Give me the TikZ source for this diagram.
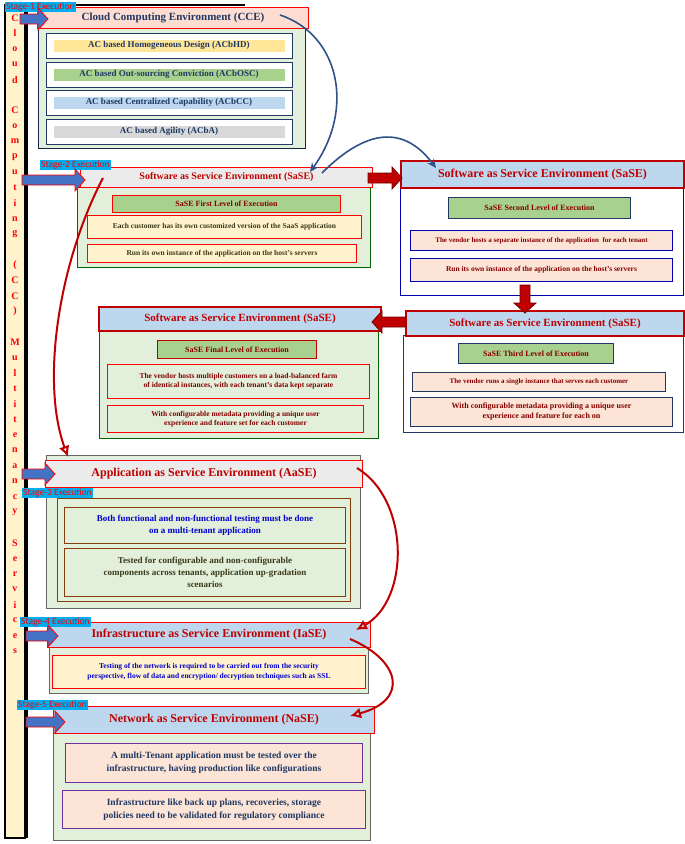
\documentclass[tikz,border=0pt]{standalone}
\usepackage{fontspec}
\setmainfont{Liberation Serif}
\newfontfamily\stg{Carlito}
\usetikzlibrary{arrows.meta}
\definecolor{navy}{HTML}{1F3864}
\definecolor{dred}{HTML}{C00000}
\definecolor{grn}{HTML}{E2EFDA}
\definecolor{grnd}{HTML}{A9D18E}
\definecolor{pyel}{HTML}{FFF2CC}
\definecolor{ppk}{HTML}{FCE4D6}
\definecolor{lblue}{HTML}{BDD7EE}
\definecolor{brn}{HTML}{843C0C}
\definecolor{arrb}{HTML}{4472C4}
\definecolor{purp}{HTML}{7030A0}
\definecolor{olive}{HTML}{3A3A1A}
\begin{document}
\begin{tikzpicture}[x=1pt,y=-1pt,
 bx/.style={draw,line width=1pt},
 ttl/.style={font=\bfseries\fontsize{11}{13}\selectfont,text=dred},
 txt/.style={font=\bfseries\fontsize{8}{10}\selectfont,align=center},
 stage/.style={fill=cyan,text=red,font=\stg\fontsize{9.5}{10}\selectfont,inner sep=1pt,anchor=west},
 blk/.pic={\filldraw[pic actions,line width=0.8pt] (0,-5) -- (#1-10,-5) -- (#1-10,-11) -- (#1,0) -- (#1-10,11) -- (#1-10,5) -- (0,5) -- cycle;},
 bblk/.style={fill=arrb,draw=red},
 rblk/.style={fill=dred,draw=dred!60!black},
 rarr/.style={dred,line width=2pt,-{Latex[length=11pt,width=11pt,open]}},
 blarr/.style={-{Stealth[length=9pt,width=8pt]},arrb!70!black,line width=1.6pt}]
\useasboundingbox (0,0) rectangle (685,844);
% left bar
\draw[fill=pyel,line width=1.5pt] (5,5) rectangle (25,838);
\draw[line width=1.5pt] (5,5) -- (245,5);
\draw[line width=1.5pt] (27,5) -- (27,838);
\foreach \c [count=\i from 0] in {C,l,o,u,d,{},C,o,m,p,u,t,i,n,g,{},{(},C,C,{)},{},M,u,l,t,i,t,e,n,a,n,c,y,{},S,e,r,v,i,c,e,s}
  \node[text=red,font=\bfseries\fontsize{10}{10}\selectfont,inner sep=0] (L\i) at (15,{18+\i*15.45}) {\c};
% Stage 1
\node[bx,draw=navy!70!black,fill=grn,minimum width=267,minimum height=120,anchor=north west] (c1) at (38,28) {};
\node[bx,draw=red,fill=ppk!80!pink,minimum width=271,minimum height=21,anchor=north west,ttl,text=navy] (cce) at (37,7) {Cloud Computing Environment (CCE)};
\foreach \y/\t/\f in {33/AC based Homogeneous Design (ACbHD)/FFE699,62/AC based Out-sourcing Conviction (ACbOSC)/A9D18E,90/AC based Centralized Capability (ACbCC)/BDD7EE,119/AC based Agility (ACbA)/D9D9D9}{
 \definecolor{tmp}{HTML}{\f}
 \node[bx,draw=navy,fill=white,minimum width=246,minimum height=25,anchor=north west] at (46,\y) {};
 \node[fill=tmp,minimum width=231,minimum height=12,inner sep=0,txt,text=navy,font=\bfseries\fontsize{9}{10}\selectfont] at (169,\y+12.5) {\t};}
\node[stage] (s1) at (5,7) {Stage-1 Execution};
\pic[bblk] at (20,19) {blk=28};
% Stage 2
\node[bx,draw=green!40!black,fill=grn,minimum width=293,minimum height=80,anchor=north west] (c2) at (77,187) {};
\node[bx,draw=red,fill=black!8,minimum width=292,minimum height=20,anchor=north west,ttl,font=\bfseries\fontsize{10}{12}\selectfont] (sase1) at (80,167) {Software as Service Environment (SaSE)};
\node[bx,draw=red,fill=grnd,minimum width=228,minimum height=17,anchor=north west,txt,text=dred!70!black] at (112,195) {SaSE First Level of Execution};
\node[bx,draw=red,fill=pyel,minimum width=274,minimum height=23,anchor=north west,txt,text=olive,font=\bfseries\fontsize{7.5}{9}\selectfont] at (87,215) {Each customer has its own customized version of the SaaS application};
\node[bx,draw=red,fill=pyel,minimum width=269,minimum height=18,anchor=north west,txt,text=olive,font=\bfseries\fontsize{7.5}{9}\selectfont] at (87,244) {Run its own instance of the application on the host's servers};
\node[stage] at (40,165) {Stage-2 Execution};
\pic[bblk] at (22,180) {blk=63};
% Right SaSE 2
\node[bx,draw=blue!70!black,fill=white,minimum width=283,minimum height=108,anchor=north west] (c3) at (400,187) {};
\node[draw=dred,line width=2pt,fill=lblue,minimum width=283,minimum height=27,anchor=north west,ttl,font=\bfseries\fontsize{12}{14}\selectfont] (sase2) at (400,160) {Software as Service Environment (SaSE)};
\node[bx,draw=navy,fill=grnd,minimum width=182,minimum height=21,anchor=north west,txt,text=dred!70!black] at (448,197) {SaSE Second Level of Execution};
\node[bx,draw=blue!70!black,fill=ppk,minimum width=262,minimum height=20,anchor=north west,txt,text=dred!70!black,font=\bfseries\fontsize{7}{9}\selectfont] at (410,230) {The vendor hosts a separate instance of the application\ \ for each tenant};
\node[bx,draw=blue!70!black,fill=ppk,minimum width=262,minimum height=23,anchor=north west,txt,text=dred!70!black,font=\bfseries\fontsize{7.5}{9}\selectfont] at (410,258) {Run its own instance of the application on the host's servers};
% SaSE 3
\node[bx,draw=navy,fill=white,minimum width=280,minimum height=97,anchor=north west] (c4) at (403,335) {};
\node[draw=dred,line width=2pt,fill=lblue,minimum width=278,minimum height=25,anchor=north west,ttl] (sase3) at (405,310) {Software as Service Environment (SaSE)};
\node[bx,draw=navy,fill=grnd,minimum width=155,minimum height=20,anchor=north west,txt,text=dred!70!black] at (458,343) {SaSE Third Level of Execution};
\node[bx,draw=navy,fill=ppk,minimum width=253,minimum height=19,anchor=north west,txt,text=dred!70!black,font=\bfseries\fontsize{7}{9}\selectfont] at (412,372) {The vendor runs a single instance that serves each customer};
\node[bx,draw=navy,fill=ppk,minimum width=262,minimum height=29,anchor=north west,txt,text=dred!70!black,font=\bfseries\fontsize{8}{10}\selectfont] at (410,397) {With configurable metadata providing a unique user\\experience and feature for each on};
% SaSE final
\node[bx,draw=green!40!black,fill=grn,minimum width=279,minimum height=108,anchor=north west] (c5) at (99,330) {};
\node[draw=dred,line width=2pt,fill=lblue,minimum width=282,minimum height=24,anchor=north west,ttl] (sase4) at (98,306) {Software as Service Environment (SaSE)};
\node[bx,draw=dred,fill=grnd,minimum width=159,minimum height=18,anchor=north west,txt,text=dred!70!black] at (157,340) {SaSE Final Level of Execution};
\node[bx,draw=red,fill=grn,minimum width=262,minimum height=34,anchor=north west,txt,text=dred!70!black,font=\bfseries\fontsize{7.5}{9}\selectfont] at (107,364) {The vendor hosts multiple customers on a load-balanced farm\\of identical instances, with each tenant's data kept separate};
\node[bx,draw=red,fill=grn,minimum width=256,minimum height=27,anchor=north west,txt,text=dred!70!black,font=\bfseries\fontsize{7.5}{9}\selectfont] at (107,405) {With configurable metadata providing a unique user\\experience and feature set for each customer};
% arrows between SaSE
\pic[rblk] at (368,178) {blk=34};
\pic[rblk,rotate=-90] at (525,285) {blk=28};
\pic[rblk,rotate=180] at (406,322) {blk=34};
\draw[blarr] (280,15) .. controls (340,35) and (355,110) .. (310,172);
\draw[blarr] (322,173) .. controls (360,135) and (400,120) .. (436,168);
% Stage 3
\node[bx,draw=black!60,fill=grn,minimum width=314,minimum height=153,anchor=north west] (c6) at (46,455) {};
\node[bx,draw=red,fill=black!8,minimum width=317,minimum height=27,anchor=north west,ttl,font=\bfseries\fontsize{12}{14}\selectfont] (aase) at (45,460) {Application as Service Environment (AaSE)};
\node[bx,draw=brn,minimum width=293,minimum height=103,anchor=north west] at (57,498) {};
\node[bx,draw=brn,minimum width=281,minimum height=36,anchor=north west,txt,text=blue!80!black,font=\bfseries\fontsize{9}{12}\selectfont] at (64,507) {Both functional and non-functional testing must be done\\on a multi-tenant application};
\node[bx,draw=brn,minimum width=281,minimum height=48,anchor=north west,txt,text=olive,font=\bfseries\fontsize{9}{12}\selectfont] at (64,548) {Tested for configurable and non-configurable\\components across tenants, application up-gradation\\scenarios};
\node[stage] at (22,493) {Stage-3 Execution};
\pic[bblk] at (22,474) {blk=33};
% Stage 4
\node[bx,draw=black!60,fill=grn,minimum width=319,minimum height=46,anchor=north west] (c7) at (49,647) {};
\node[bx,draw=red,fill=lblue,minimum width=323,minimum height=25,anchor=north west,ttl,font=\bfseries\fontsize{12}{14}\selectfont] (iase) at (47,622) {Infrastructure as Service Environment (IaSE)};
\node[bx,draw=red,fill=pyel,minimum width=313,minimum height=33,anchor=north west,txt,text=blue!80!black,font=\bfseries\fontsize{7.5}{10}\selectfont] at (52,655) {Testing of the network is required to be carried out from the security\\perspective, flow of data and encryption/ decryption techniques such as SSL};
\node[stage] at (20,622) {Stage-4 Execution};
\pic[bblk] at (26,636) {blk=32};
% Stage 5
\node[bx,draw=black!60,fill=grn,minimum width=317,minimum height=107,anchor=north west] (c8) at (53,733) {};
\node[bx,draw=red,fill=lblue,minimum width=321,minimum height=27,anchor=north west,ttl,font=\bfseries\fontsize{12}{14}\selectfont] (nase) at (53,706) {Network as Service Environment (NaSE)};
\node[bx,draw=purp,fill=ppk,minimum width=297,minimum height=39,anchor=north west,txt,text=navy,font=\bfseries\fontsize{9.5}{13}\selectfont] at (65,743) {A multi-Tenant application must be tested over the\\infrastructure, having production like configurations};
\node[bx,draw=purp,fill=ppk,minimum width=303,minimum height=38,anchor=north west,txt,text=navy,font=\bfseries\fontsize{9.5}{13}\selectfont] at (62,790) {Infrastructure like back up plans, recoveries, storage\\policies need to be validated for regulatory compliance};
\node[stage] at (17,705) {Stage-5 Execution};
\pic[bblk] at (26,722) {blk=39};
% red curves
\draw[rarr] (103,178) .. controls (60,260) and (40,380) .. (68,457);
\draw[rarr] (357,468) .. controls (410,500) and (410,600) .. (356,630);
\draw[rarr] (350,639) .. controls (400,660) and (410,700) .. (350,716);
\end{tikzpicture}
\end{document}
